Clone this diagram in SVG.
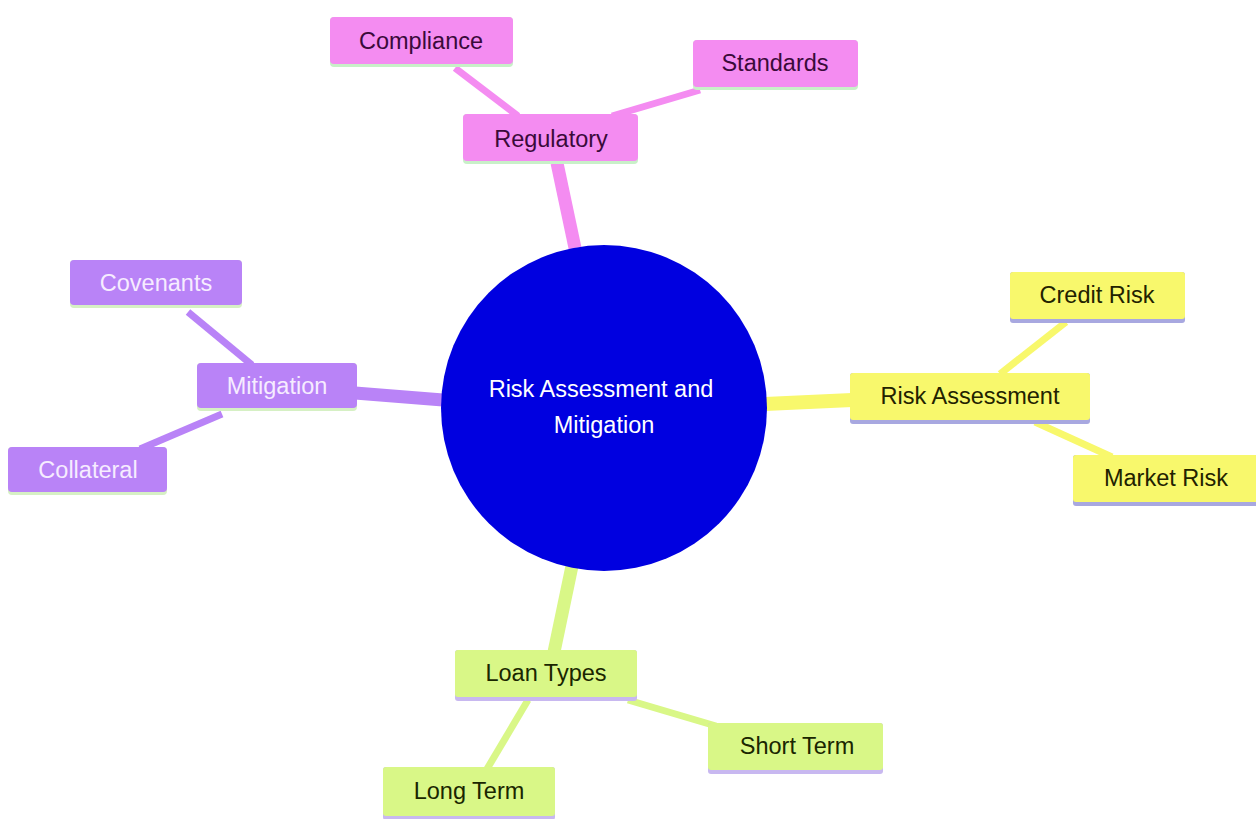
<svg xmlns="http://www.w3.org/2000/svg" width="1256" height="819" viewBox="0 0 1256 819">
<style>
text{font-family:"Liberation Sans",Arial,sans-serif;font-size:23.5px;text-anchor:middle;dominant-baseline:central}
.e{fill:none;stroke-linecap:butt}
.pk{fill:#f48cf1}.pkt{fill:#3a0a3a}
.pu{fill:#b983f7}.put{fill:#f6ecff}
.ye{fill:#f8f86c}.yet{fill:#222200}
.gr{fill:#d9f787}.grt{fill:#1a2600}
</style>
<rect width="1256" height="819" fill="#ffffff"/>
<g id="connectors">
<g stroke="#f48cf1" class="e">
<line x1="557" y1="163" x2="575" y2="248" stroke-width="13"/>
<line x1="455" y1="68" x2="518" y2="116" stroke-width="7"/>
<line x1="700" y1="90" x2="612" y2="116" stroke-width="7"/>
</g>
<g stroke="#b983f7" class="e">
<line x1="355" y1="393" x2="443" y2="400" stroke-width="13"/>
<line x1="188" y1="312" x2="252" y2="365" stroke-width="7"/>
<line x1="140" y1="449" x2="222" y2="414" stroke-width="7"/>
</g>
<g stroke="#f8f86c" class="e">
<line x1="765" y1="404" x2="852" y2="400" stroke-width="14"/>
<line x1="1000" y1="374" x2="1066" y2="322" stroke-width="7"/>
<line x1="1035" y1="422" x2="1112" y2="457" stroke-width="7"/>
</g>
<g stroke="#d9f787" class="e">
<line x1="572" y1="566" x2="554" y2="652" stroke-width="13"/>
<line x1="528" y1="700" x2="487" y2="769" stroke-width="7"/>
<line x1="628" y1="700" x2="716" y2="726" stroke-width="7"/>
</g>
</g>
<g id="root">
<circle cx="604" cy="408" r="163" fill="#0000e0"/>
<text x="601" y="389" fill="#ffffff">Risk Assessment and</text>
<text x="604" y="425" fill="#ffffff">Mitigation</text>
</g>
<g id="regulatory">
<rect x="463" y="114" width="175" height="50" rx="4" fill="#c8f0c8"/>
<rect x="463" y="114" width="175" height="47" rx="4" class="pk"/>
<text x="551" y="139" class="pkt">Regulatory</text>
</g>
<g id="compliance">
<rect x="330" y="17" width="183" height="50" rx="4" fill="#c8f0c8"/>
<rect x="330" y="17" width="183" height="47" rx="4" class="pk"/>
<text x="421" y="41" class="pkt">Compliance</text>
</g>
<g id="standards">
<rect x="693" y="40" width="165" height="50" rx="4" fill="#c8f0c8"/>
<rect x="693" y="40" width="165" height="47" rx="4" class="pk"/>
<text x="775" y="63" class="pkt">Standards</text>
</g>
<g id="mitigation">
<rect x="197" y="363" width="160" height="48" rx="4" fill="#d6f0c4"/>
<rect x="197" y="363" width="160" height="45" rx="4" class="pu"/>
<text x="277" y="386" class="put">Mitigation</text>
</g>
<g id="covenants">
<rect x="70" y="260" width="172" height="48" rx="4" fill="#d6f0c4"/>
<rect x="70" y="260" width="172" height="45" rx="4" class="pu"/>
<text x="156" y="283" class="put">Covenants</text>
</g>
<g id="collateral">
<rect x="8" y="447" width="159" height="48" rx="4" fill="#d6f0c4"/>
<rect x="8" y="447" width="159" height="45" rx="4" class="pu"/>
<text x="88" y="470" class="put">Collateral</text>
</g>
<g id="risk-assessment">
<rect x="850" y="373" width="240" height="51" rx="3" fill="#a8a8e0"/>
<rect x="850" y="373" width="240" height="47" rx="3" class="ye"/>
<text x="970" y="396" class="yet">Risk Assessment</text>
</g>
<g id="credit-risk">
<rect x="1010" y="272" width="175" height="51" rx="3" fill="#a8a8e0"/>
<rect x="1010" y="272" width="175" height="47" rx="3" class="ye"/>
<text x="1097" y="295" class="yet">Credit Risk</text>
</g>
<g id="market-risk">
<rect x="1073" y="455" width="190" height="51" rx="3" fill="#a8a8e0"/>
<rect x="1073" y="455" width="190" height="47" rx="3" class="ye"/>
<text x="1166" y="478" class="yet">Market Risk</text>
</g>
<g id="loan-types">
<rect x="455" y="650" width="182" height="51" rx="3" fill="#c8b8f0"/>
<rect x="455" y="650" width="182" height="47" rx="3" class="gr"/>
<text x="546" y="673" class="grt">Loan Types</text>
</g>
<g id="short-term">
<rect x="708" y="723" width="175" height="51" rx="3" fill="#c8b8f0"/>
<rect x="708" y="723" width="175" height="47" rx="3" class="gr"/>
<text x="797" y="746" class="grt">Short Term</text>
</g>
<g id="long-term">
<rect x="383" y="767" width="172" height="53" rx="3" fill="#c8b8f0"/>
<rect x="383" y="767" width="172" height="49" rx="3" class="gr"/>
<text x="469" y="791" class="grt">Long Term</text>
</g>
</svg>
